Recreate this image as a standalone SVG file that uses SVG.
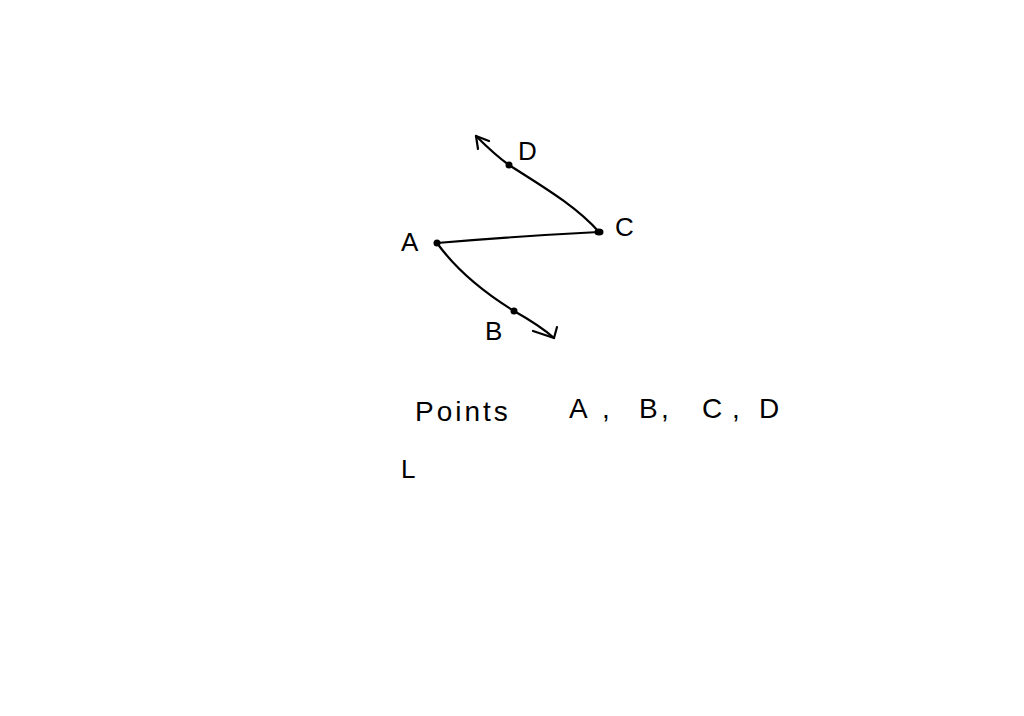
<svg xmlns="http://www.w3.org/2000/svg" width="1024" height="716" viewBox="0 0 1024 716">
<style>
.ln{fill:none;stroke:#000;stroke-width:2.2;stroke-linecap:round;stroke-linejoin:round}
.pt{fill:#000}
.lb{font-family:"Liberation Sans","DejaVu Sans",sans-serif;font-size:26px;fill:#000}
.cap{font-size:28px}
</style>
<rect width="1024" height="716" fill="#fff"/>
<g id="connectors">
<path class="ln" d="M437,243 Q520,236 599,232"/>
<path class="ln" d="M599,232 C575,205 540,185 509,165 C495,155 485,145 476,136"/>
<path class="ln" d="M476,136 L478,149 M476,136 L489,141"/>
<path class="ln" d="M437,243 C455,268 480,290 514,311 C530,320 545,330 554,338"/>
<path class="ln" d="M554,338 L533,331 M554,338 L557,327"/>
</g>
<g id="A"><circle class="pt" cx="437" cy="243" r="3.5"/><text class="lb" x="401" y="251">A</text></g>
<g id="C"><ellipse class="pt" cx="599" cy="232" rx="4.5" ry="3.5"/><text class="lb" x="615" y="236">C</text></g>
<g id="D"><circle class="pt" cx="509" cy="165" r="3.5"/><text class="lb" x="518" y="160">D</text></g>
<g id="B"><circle class="pt" cx="514" cy="311" r="3.5"/><text class="lb" x="485" y="340">B</text></g>
<g id="caption">
<text class="lb cap" x="415" y="421" letter-spacing="3">Points</text>
<text class="lb cap" x="569" y="418">A</text>
<text class="lb cap" x="602" y="418">,</text>
<text class="lb cap" x="639" y="418">B</text>
<text class="lb cap" x="661" y="418">,</text>
<text class="lb cap" x="702" y="418">C</text>
<text class="lb cap" x="732" y="418">,</text>
<text class="lb cap" x="759" y="418">D</text>
<text class="lb" x="401" y="478">L</text>
</g>
</svg>
